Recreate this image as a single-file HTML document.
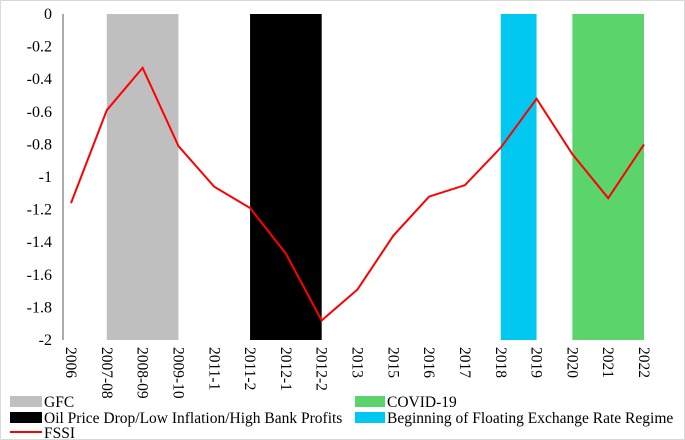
<!DOCTYPE html>
<html><head><meta charset="utf-8"><style>
body{margin:0;background:#fff}
svg{display:block;font-family:"Liberation Serif",serif}
</style></head><body>
<svg id="c" width="685" height="440">
<rect x="0.5" y="0.5" width="684" height="439" fill="#fff" stroke="#d9d9d9"/>
<g id="bands"></g>
<g id="yaxis"></g>
<g id="xaxis"></g>
<path id="line" fill="none" stroke="#ff0000" stroke-width="2"/>
<g>
<rect x="10" y="396" width="32" height="11" fill="#bfbfbf"/>
<text x="44" y="407" font-size="15.5">GFC</text>
<rect x="355" y="396" width="30" height="11" fill="#5bd46b"/>
<text x="387" y="407" font-size="15.5">COVID-19</text>
<rect x="10" y="412" width="32" height="11" fill="#000"/>
<text x="44" y="423" font-size="15.5">Oil Price Drop/Low Inflation/High Bank Profits</text>
<rect x="355" y="412" width="30" height="11" fill="#00c8f0"/>
<text x="387" y="423" font-size="15.5">Beginning of Floating Exchange Rate Regime</text>
<line x1="10" y1="432" x2="42" y2="432" stroke="#ff0000" stroke-width="2"/>
<text x="44" y="438" font-size="15.5">FSSI</text>
</g>
</svg>
<script>
const categories=["2006","2007-08","2008-09","2009-10","2011-1","2011-2","2012-1","2012-2","2013","2015","2016","2017","2018","2019","2020","2021","2022"];
const fssi=[-1.16,-0.59,-0.33,-0.81,-1.06,-1.19,-1.47,-1.88,-1.69,-1.36,-1.12,-1.05,-0.82,-0.52,-0.86,-1.13,-0.80];
const yTicks=[0,-0.2,-0.4,-0.6,-0.8,-1,-1.2,-1.4,-1.6,-1.8,-2];
const bandStart=["2007-08","2011-2","2018","2020"];
const bandEnd=["2009-10","2012-2","2019","2022"];
const bandNames=["gfc-band","oil-price-band","floating-rate-band","covid-band"];
const bandColors=["#bfbfbf","#000000","#00c8f0","#5bd46b"];
const NS="http://www.w3.org/2000/svg";
const x0=71,x1=644,yTop=14,yBot=340;
function xs(i){return x0+(x1-x0)*i/(categories.length-1);}
function ys(v){return yTop+(0-v)/2*(yBot-yTop);}
function mk(t,a,p){const e=document.createElementNS(NS,t);for(const k in a)e.setAttribute(k,a[k]);p.appendChild(e);return e;}
const bands=document.getElementById('bands');
bandStart.forEach((s,k)=>{const a=xs(categories.indexOf(s)),b=xs(categories.indexOf(bandEnd[k]));
const r=mk('rect',{x:a,y:yTop,width:b-a,height:yBot-yTop,fill:bandColors[k]},bands);

});
const ya=document.getElementById('yaxis');
const al=mk('line',{x1:63,y1:yTop,x2:63,y2:yBot,stroke:'#595959'},ya);


yTicks.forEach(v=>{const t=mk('text',{x:52,y:ys(v)+5,'text-anchor':'end','font-size':16},ya);t.textContent=String(v);

});
const xa=document.getElementById('xaxis');
categories.forEach((c,i)=>{const x=xs(i)-5;const t=mk('text',{x:0,y:0,transform:`translate(${x},347) rotate(90)`,'font-size':15.5},xa);t.textContent=c;

});
document.getElementById('line').setAttribute('d',fssi.map((v,i)=>(i?'L':'M')+xs(i)+','+ys(v)).join(''));
</script>
</body></html>
